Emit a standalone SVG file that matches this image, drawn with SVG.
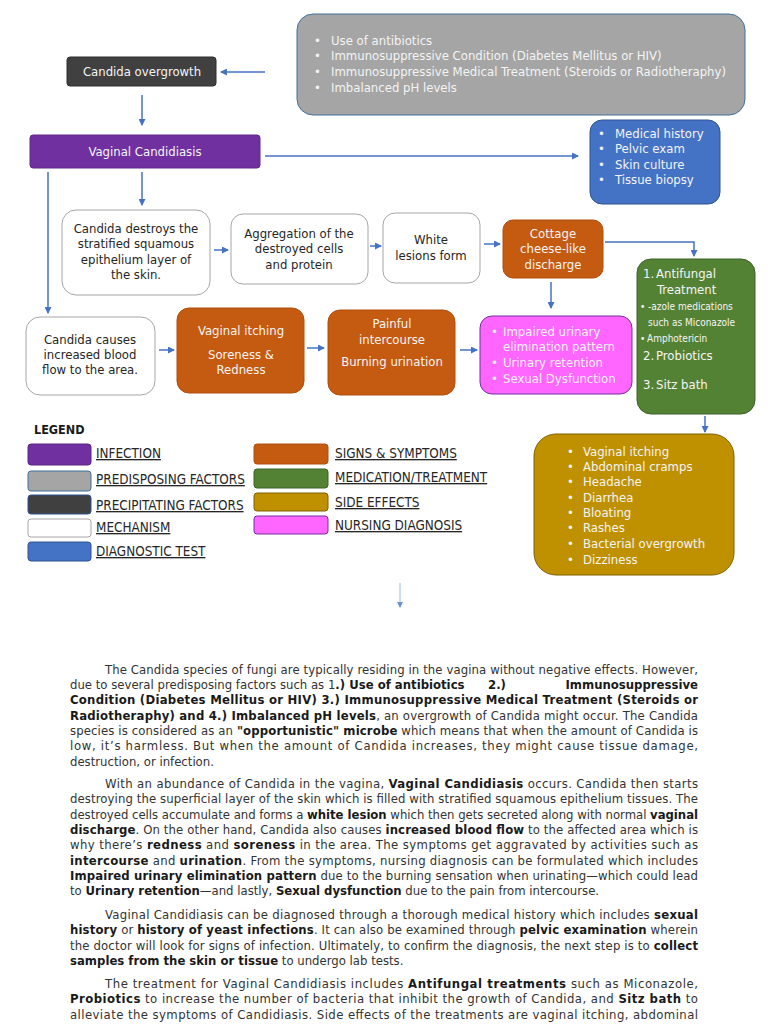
<svg xmlns="http://www.w3.org/2000/svg" width="768" height="1024" viewBox="0 0 768 1024">
<style>
.t{font-family:"DejaVu Sans Condensed","DejaVu Sans",sans-serif;font-size:13px;}
.c{text-anchor:middle;}
.wt{fill:#f4f4f4;}
.dk{fill:#262626;}
.sm{font-size:10px;}
.lg{font-family:"DejaVu Sans Condensed","DejaVu Sans",sans-serif;font-size:13.4px;fill:#262626;text-decoration:underline;}
.p{font-family:"DejaVu Sans",Verdana,sans-serif;font-size:11.7px;fill:#333;}
.b{font-weight:bold;fill:#1a1a1a;}
.mech{fill:#fff;stroke:#a6a6a6;stroke-width:1;}
.ss{fill:#c55a11;stroke:#ae4f0f;stroke-width:1;}
.con{fill:none;stroke:#4472c4;stroke-width:1.5;}
</style>
<defs>
<marker id="ah" markerUnits="userSpaceOnUse" markerWidth="7" markerHeight="7" refX="6" refY="3.5" orient="auto">
<path d="M0,0 L7,3.5 L0,7 z" fill="#4472c4"/>
</marker>
<marker id="ah2" markerUnits="userSpaceOnUse" markerWidth="6" markerHeight="6" refX="5" refY="3" orient="auto">
<path d="M0,0 L6,3 L0,6 z" fill="#6b8fd6"/>
</marker>
</defs>
<rect width="768" height="1024" fill="#fff"/>

<g id="connectors">
<path class="con" d="M265,72 H221" marker-end="url(#ah)"/>
<path class="con" d="M142,95 V125" marker-end="url(#ah)"/>
<path class="con" d="M265,156 H578" marker-end="url(#ah)"/>
<path class="con" d="M142,172 V205" marker-end="url(#ah)"/>
<path class="con" d="M48,172 V313" marker-end="url(#ah)"/>
<path class="con" d="M214,250 H228" marker-end="url(#ah)"/>
<path class="con" d="M370,246 H381" marker-end="url(#ah)"/>
<path class="con" d="M484,244 H500" marker-end="url(#ah)"/>
<path class="con" d="M605,242 H694 V256" marker-end="url(#ah)"/>
<path class="con" d="M551,282 V308" marker-end="url(#ah)"/>
<path class="con" d="M705,416 V432" marker-end="url(#ah)"/>
<path class="con" d="M159,350 H174" marker-end="url(#ah)"/>
<path class="con" d="M307,348 H324" marker-end="url(#ah)"/>
<path class="con" d="M460,350 H477" marker-end="url(#ah)"/>
<path d="M400,583 V607" fill="none" stroke="#9db5e6" stroke-width="1" marker-end="url(#ah2)"/>
</g>

<g id="predisposing">
<rect x="297" y="14" width="448" height="101" rx="16" fill="#a5a5a5" stroke="#41719c" stroke-width="1"/>
<g class="t wt">
<text x="314" y="45">•</text><text x="331" y="45">Use of antibiotics</text>
<text x="314" y="60">•</text><text x="331" y="60">Immunosuppressive Condition (Diabetes Mellitus or HIV)</text>
<text x="314" y="76">•</text><text x="331" y="76">Immunosuppressive Medical Treatment (Steroids or Radiotheraphy)</text>
<text x="314" y="92">•</text><text x="331" y="92">Imbalanced pH levels</text>
</g>
</g>

<g id="overgrowth">
<rect x="67" y="57" width="149" height="29" rx="3" fill="#404040" stroke="#2f2f2f"/>
<text class="t c wt" x="142" y="76">Candida overgrowth</text>
</g>

<g id="candidiasis">
<rect x="30" y="135" width="230" height="33" rx="3" fill="#7030a0" stroke="#5f2a88"/>
<text class="t c wt" x="145" y="156">Vaginal Candidiasis</text>
</g>

<g id="diagnostic">
<rect x="590" y="120" width="130" height="84" rx="12" fill="#4472c4" stroke="#2f528f"/>
<g class="t wt">
<text x="598" y="138">•</text><text x="615" y="138">Medical history</text>
<text x="598" y="153">•</text><text x="615" y="153">Pelvic exam</text>
<text x="598" y="169">•</text><text x="615" y="169">Skin culture</text>
<text x="598" y="184">•</text><text x="615" y="184">Tissue biopsy</text>
</g>
</g>

<g id="destroys">
<rect class="mech" x="62" y="210" width="148" height="85" rx="14"/>
<g class="t c dk">
<text x="136" y="233">Candida destroys the</text>
<text x="136" y="248">stratified squamous</text>
<text x="136" y="264">epithelium layer of</text>
<text x="136" y="279">the skin.</text>
</g>
</g>

<g id="aggregation">
<rect class="mech" x="231" y="214" width="137" height="70" rx="12"/>
<g class="t c dk">
<text x="299" y="238">Aggregation of the</text>
<text x="299" y="253">destroyed cells</text>
<text x="299" y="269">and protein</text>
</g>
</g>

<g id="lesions">
<rect class="mech" x="383" y="213" width="97" height="70" rx="12"/>
<g class="t c dk">
<text x="431" y="244">White</text>
<text x="431" y="260">lesions form</text>
</g>
</g>

<g id="discharge">
<rect class="ss" x="503" y="220" width="100" height="58" rx="10"/>
<g class="t c wt">
<text x="553" y="238">Cottage</text>
<text x="553" y="253">cheese-like</text>
<text x="553" y="269">discharge</text>
</g>
</g>

<g id="treatment">
<rect x="637" y="259" width="118" height="155" rx="14" fill="#548235" stroke="#3f6128"/>
<g class="t wt">
<text x="643" y="278">1.</text><text x="656" y="278">Antifungal</text>
<text x="657" y="294">Treatment</text>
<text class="sm" x="640" y="310">•</text><text class="sm" x="648" y="310">-azole medications</text>
<text class="sm" x="648" y="326">such as Miconazole</text>
<text class="sm" x="640" y="342">•</text><text class="sm" x="647" y="342">Amphotericin</text>
<text x="643" y="360">2.</text><text x="656" y="360">Probiotics</text>
<text x="643" y="389">3.</text><text x="656" y="389">Sitz bath</text>
</g>
</g>

<g id="sideeffects">
<rect x="534" y="434" width="200" height="141" rx="22" fill="#bf9000" stroke="#7f6000"/>
<g class="t wt">
<text x="567" y="456">•</text><text x="583" y="456">Vaginal itching</text>
<text x="567" y="471">•</text><text x="583" y="471">Abdominal cramps</text>
<text x="567" y="486">•</text><text x="583" y="486">Headache</text>
<text x="567" y="502">•</text><text x="583" y="502">Diarrhea</text>
<text x="567" y="517">•</text><text x="583" y="517">Bloating</text>
<text x="567" y="532">•</text><text x="583" y="532">Rashes</text>
<text x="567" y="548">•</text><text x="583" y="548">Bacterial overgrowth</text>
<text x="567" y="564">•</text><text x="583" y="564">Dizziness</text>
</g>
</g>

<g id="bloodflow">
<rect class="mech" x="26" y="317" width="129" height="78" rx="14"/>
<g class="t c dk">
<text x="90" y="344">Candida causes</text>
<text x="90" y="359">increased blood</text>
<text x="90" y="374">flow to the area.</text>
</g>
</g>

<g id="itching">
<rect class="ss" x="177" y="308" width="127" height="85" rx="12"/>
<g class="t c wt">
<text x="241" y="335">Vaginal itching</text>
<text x="241" y="359">Soreness &amp;</text>
<text x="241" y="374">Redness</text>
</g>
</g>

<g id="painful">
<rect class="ss" x="328" y="310" width="127" height="85" rx="12"/>
<g class="t c wt">
<text x="392" y="328">Painful</text>
<text x="392" y="344">intercourse</text>
<text x="392" y="366">Burning urination</text>
</g>
</g>

<g id="nursing">
<rect x="480" y="316" width="152" height="78" rx="12" fill="#ff66ff" stroke="#7030a0"/>
<g class="t wt">
<text x="491" y="336">•</text><text x="503" y="336">Impaired urinary</text>
<text x="503" y="351">elimination pattern</text>
<text x="491" y="367">•</text><text x="503" y="367">Urinary retention</text>
<text x="491" y="383">•</text><text x="503" y="383">Sexual Dysfunction</text>
</g>
</g>

<g id="legend">
<text x="34" y="434" font-family="DejaVu Sans Condensed,DejaVu Sans,sans-serif" font-size="12.5" font-weight="bold" fill="#1a1a1a">LEGEND</text>
<rect x="28" y="444" width="63" height="21" rx="3" fill="#7030a0" stroke="#5a2785"/>
<rect x="28" y="471" width="63" height="20" rx="3" fill="#a5a5a5" stroke="#41719c"/>
<rect x="28" y="495" width="63" height="19" rx="3" fill="#404040" stroke="#2f528f"/>
<rect x="28" y="519" width="63" height="18" rx="3" fill="#fff" stroke="#a6a6a6"/>
<rect x="28" y="542" width="63" height="19" rx="3" fill="#4472c4" stroke="#2f528f"/>
<text class="lg" x="96" y="458">INFECTION</text>
<text class="lg" x="96" y="484">PREDISPOSING FACTORS</text>
<text class="lg" x="96" y="510">PRECIPITATING FACTORS</text>
<text class="lg" x="96" y="532">MECHANISM</text>
<text class="lg" x="96" y="556">DIAGNOSTIC TEST</text>
<rect x="254" y="444" width="74" height="20" rx="3" fill="#c55a11" stroke="#ae4f0f"/>
<rect x="254" y="469" width="74" height="19" rx="3" fill="#548235" stroke="#3f6128"/>
<rect x="254" y="493" width="74" height="18" rx="3" fill="#bf9000" stroke="#7f6000"/>
<rect x="254" y="516" width="74" height="18" rx="3" fill="#ff66ff" stroke="#7030a0"/>
<text class="lg" x="335" y="458">SIGNS &amp; SYMPTOMS</text>
<text class="lg" x="335" y="482">MEDICATION/TREATMENT</text>
<text class="lg" x="335" y="507">SIDE EFFECTS</text>
<text class="lg" x="335" y="530">NURSING DIAGNOSIS</text>
</g>

<g id="text-body" class="p">
<text x="105" y="674" textLength="593" lengthAdjust="spacing">The Candida species of fungi are typically residing in the vagina without negative effects. However,</text>
<text x="70" y="689">due to several predisposing factors such as 1<tspan class="b">.) Use of antibiotics</tspan></text>
<text class="b" x="488" y="689">2.)</text>
<text class="b" x="698" y="689" text-anchor="end">Immunosuppressive</text>
<text class="b" x="70" y="704" textLength="628" lengthAdjust="spacing">Condition (Diabetes Mellitus or HIV) 3.) Immunosuppressive Medical Treatment (Steroids or</text>
<text x="70" y="720" textLength="628" lengthAdjust="spacing"><tspan class="b">Radiotheraphy) and 4.) Imbalanced pH levels</tspan>, an overgrowth of Candida might occur. The Candida</text>
<text x="70" y="735" textLength="628" lengthAdjust="spacing">species is considered as an <tspan class="b">"opportunistic" microbe</tspan> which means that when the amount of Candida is</text>
<text x="70" y="750" textLength="628" lengthAdjust="spacing">low, it’s harmless. But when the amount of Candida increases, they might cause tissue damage,</text>
<text x="70" y="766">destruction, or infection.</text>

<text x="105" y="788" textLength="593" lengthAdjust="spacing">With an abundance of Candida in the vagina, <tspan class="b">Vaginal Candidiasis</tspan> occurs. Candida then starts</text>
<text x="70" y="803" textLength="628" lengthAdjust="spacing">destroying the superficial layer of the skin which is filled with stratified squamous epithelium tissues. The</text>
<text x="70" y="819" textLength="628" lengthAdjust="spacing">destroyed cells accumulate and forms a <tspan class="b">white lesion</tspan> which then gets secreted along with normal <tspan class="b">vaginal</tspan></text>
<text x="70" y="834" textLength="628" lengthAdjust="spacing"><tspan class="b">discharge</tspan>. On the other hand, Candida also causes <tspan class="b">increased blood flow</tspan> to the affected area which is</text>
<text x="70" y="849" textLength="628" lengthAdjust="spacing">why there’s <tspan class="b">redness</tspan> and <tspan class="b">soreness</tspan> in the area. The symptoms get aggravated by activities such as</text>
<text x="70" y="865" textLength="628" lengthAdjust="spacing"><tspan class="b">intercourse</tspan> and <tspan class="b">urination</tspan>. From the symptoms, nursing diagnosis can be formulated which includes</text>
<text x="70" y="880" textLength="628" lengthAdjust="spacing"><tspan class="b">Impaired urinary elimination pattern</tspan> due to the burning sensation when urinating—which could lead</text>
<text x="70" y="895">to <tspan class="b">Urinary retention</tspan>—and lastly, <tspan class="b">Sexual dysfunction</tspan> due to the pain from intercourse.</text>

<text x="105" y="919" textLength="593" lengthAdjust="spacing">Vaginal Candidiasis can be diagnosed through a thorough medical history which includes <tspan class="b">sexual</tspan></text>
<text x="70" y="934" textLength="628" lengthAdjust="spacing"><tspan class="b">history</tspan> or <tspan class="b">history of yeast infections</tspan>. It can also be examined through <tspan class="b">pelvic examination</tspan> wherein</text>
<text x="70" y="950" textLength="628" lengthAdjust="spacing">the doctor will look for signs of infection. Ultimately, to confirm the diagnosis, the next step is to <tspan class="b">collect</tspan></text>
<text x="70" y="965"><tspan class="b">samples from the skin or tissue</tspan> to undergo lab tests.</text>

<text x="105" y="988" textLength="593" lengthAdjust="spacing">The treatment for Vaginal Candidiasis includes <tspan class="b">Antifungal treatments</tspan> such as Miconazole,</text>
<text x="70" y="1003" textLength="628" lengthAdjust="spacing"><tspan class="b">Probiotics</tspan> to increase the number of bacteria that inhibit the growth of Candida, and <tspan class="b">Sitz bath</tspan> to</text>
<text x="70" y="1019" textLength="628" lengthAdjust="spacing">alleviate the symptoms of Candidiasis. Side effects of the treatments are vaginal itching, abdominal</text>
</g>
</svg>
